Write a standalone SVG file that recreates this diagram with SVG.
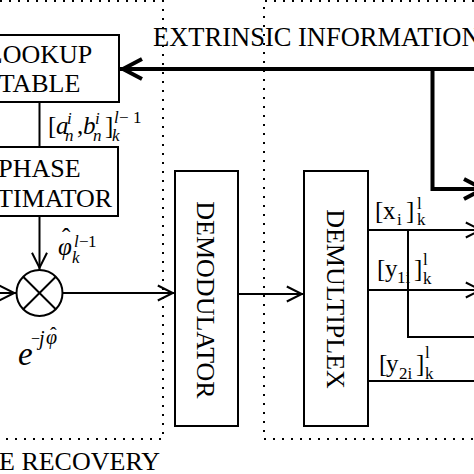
<svg xmlns="http://www.w3.org/2000/svg" width="474" height="474" viewBox="0 0 474 474">
<style>
.box{fill:#fff;stroke:#000;stroke-width:2}
.ln{fill:none;stroke:#000;stroke-width:2}
.thick{fill:none;stroke:#000;stroke-width:4}
.dot{fill:none;stroke:#000;stroke-width:2;stroke-dasharray:2 7}
.lbl{font-family:"Liberation Serif","Times New Roman",serif;font-size:26px;fill:#000}
.m{font-family:"Liberation Serif","Times New Roman",serif;font-size:25px;fill:#000}
.it{font-style:italic}
.s{font-size:17px}
</style>
<defs>
<marker id="ah" markerUnits="userSpaceOnUse" markerWidth="24" markerHeight="24" viewBox="-20 -12 24 24" refX="2.2" refY="0" orient="auto">
<path d="M-15,-7.5 L0,0 L-15,7.5" fill="none" stroke="#000" stroke-width="2"/>
</marker>
<marker id="ahT" markerUnits="userSpaceOnUse" markerWidth="32" markerHeight="32" viewBox="-26 -16 32 32" refX="4" refY="0" orient="auto">
<path d="M-19,-10 L0,0 L-19,10" fill="none" stroke="#000" stroke-width="4"/>
</marker>
</defs>
<rect x="0" y="0" width="474" height="474" fill="#fff"/>

<g id="regions">
<path class="dot" d="M0,1 H163 V439 H0"/>
<path class="dot" d="M474,1 H264 V439 H474"/>
<text class="lbl" x="-1" y="470">E RECOVERY</text>
<text class="lbl" x="153" y="46" style="font-size:26.5px">EXTRINSIC INFORMATION</text>
</g>

<g id="connectors">
<path class="thick" d="M476,69 H119" marker-end="url(#ahT)"/>
<path class="thick" d="M432.5,69 V189 H487" marker-end="url(#ahT)"/>
<path class="ln" d="M39.5,102 V147"/>
<path class="ln" d="M39.5,216 V270" marker-end="url(#ah)"/>
<path class="ln" d="M-2,293 H16.5" marker-end="url(#ah)"/>
<path class="ln" d="M62.5,293 H175" marker-end="url(#ah)"/>
<path class="ln" d="M238,294 H304" marker-end="url(#ah)"/>
<path class="ln" d="M368,230 H483" marker-end="url(#ah)"/>
<path class="ln" d="M408,230 V337 H476"/>
<path class="ln" d="M368,290 H483" marker-end="url(#ah)"/>
<path class="ln" d="M368,381 H476"/>
</g>

<g id="lookup-table">
<rect class="box" x="-40" y="35" width="159" height="67"/>
<text class="lbl" text-anchor="middle" x="39.5" y="63">LOOKUP</text>
<text class="lbl" text-anchor="middle" x="39.5" y="92">TABLE</text>
</g>

<g id="phase-estimator">
<rect class="box" x="-40" y="147" width="158" height="69"/>
<text class="lbl" text-anchor="middle" x="39.5" y="177">PHASE</text>
<text class="lbl" text-anchor="middle" x="39.5" y="207">ESTIMATOR</text>
</g>

<g id="multiplier">
<circle class="box" cx="39.5" cy="293" r="23"/>
<path class="ln" d="M23.2,276.7 L55.8,309.3 M55.8,276.7 L23.2,309.3"/>
</g>

<g id="demodulator">
<rect class="box" x="175" y="171" width="63" height="255"/>
<text class="lbl" text-anchor="middle" transform="translate(197,300) rotate(90)">DEMODULATOR</text>
</g>

<g id="demultiplex">
<rect class="box" x="304" y="171" width="64" height="255"/>
<text class="lbl" text-anchor="middle" transform="translate(327,299) rotate(90)">DEMULTIPLEX</text>
</g>

<g id="labels">
<text class="m"><tspan x="48" y="134">[</tspan><tspan class="it" x="56" y="134">a</tspan><tspan class="it s" x="67" y="124">i</tspan><tspan class="it s" x="65" y="141">n</tspan><tspan x="77" y="134">,</tspan><tspan class="it" x="83" y="134">b</tspan><tspan class="it s" x="95" y="124">i</tspan><tspan class="it s" x="93" y="141">n</tspan><tspan x="105" y="134">]</tspan><tspan class="it s" x="114" y="123">l</tspan><tspan class="s" x="119" y="123">−</tspan><tspan class="s" x="133" y="123">1</tspan><tspan class="it s" x="112" y="141">k</tspan></text>

<text class="m"><tspan class="it" x="58" y="255">φ</tspan><tspan x="62" y="246">ˆ</tspan><tspan class="it s" x="74" y="247">l</tspan><tspan class="s" x="79" y="247">−</tspan><tspan class="s" x="88" y="247">1</tspan><tspan class="it s" x="72" y="263">k</tspan></text>

<text class="m"><tspan class="it" style="font-size:33px" x="18" y="365">e</tspan><tspan style="font-size:16px" x="31" y="344">−</tspan><tspan class="it" style="font-size:20px" x="39" y="345">j</tspan><tspan class="it" style="font-size:20px" x="46" y="344">φ</tspan><tspan style="font-size:20px" x="50" y="342">ˆ</tspan></text>

<text class="m"><tspan x="375" y="219">[</tspan><tspan x="383" y="219">x</tspan><tspan class="s" x="397" y="225">i</tspan><tspan x="406" y="219">]</tspan><tspan class="s" x="417" y="209">l</tspan><tspan class="s" x="417" y="225">k</tspan></text>

<text class="m"><tspan x="377" y="277">[</tspan><tspan x="385" y="277">y</tspan><tspan class="s" x="397" y="283">1i</tspan><tspan x="414" y="277">]</tspan><tspan class="s" x="423" y="265">l</tspan><tspan class="s" x="423" y="284">k</tspan></text>

<text class="m"><tspan x="379" y="372">[</tspan><tspan x="386" y="372">y</tspan><tspan class="s" x="399" y="379">2i</tspan><tspan x="416" y="372">]</tspan><tspan class="s" x="425" y="358">l</tspan><tspan class="s" x="425" y="379">k</tspan></text>
</g>
</svg>
